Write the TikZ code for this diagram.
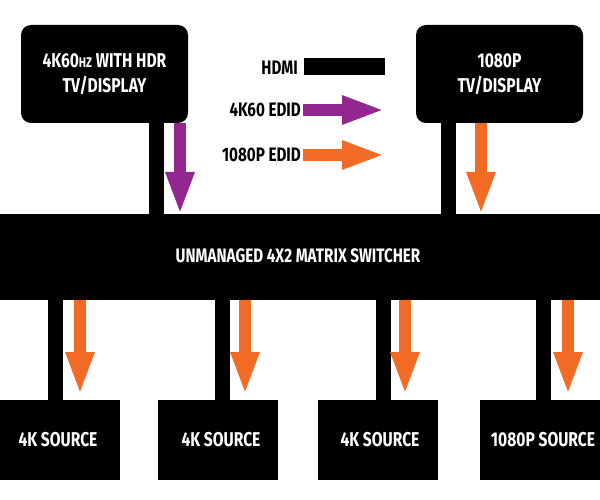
\documentclass[tikz,border=0pt]{standalone}
\usepackage{fontspec}
\setmainfont{Fira Sans}[FakeStretch=0.78]
\usetikzlibrary{arrows.meta}
\definecolor{pur}{HTML}{93278F}
\definecolor{org}{HTML}{F26B25}
\begin{document}
\begin{tikzpicture}[x=1pt,y=-1pt,
  box/.style={fill=black,text=white,font=\bfseries\fontsize{20}{25}\selectfont,align=center,inner sep=0},
  cable/.style={line width=15pt,black},
  edid/.style={line width=12pt,-{Triangle[width=26pt,length=43pt]}},
  lbl/.style={font=\bfseries\fontsize{19.5}{23}\selectfont,anchor=east,inner sep=0}]
\useasboundingbox (0,0) rectangle (600,500);
% cables
\draw[cable] (156,120) -- (156,216);
\draw[cable] (448,120) -- (448,216);
\foreach \x in {55,222,383,543}{\draw[cable] (\x,296) -- (\x,402);}
% boxes
\fill[rounded corners=10pt] (21,25) rectangle (188,123);
\node[box] (tl) at (104.5,74) {4K60{\fontsize{14}{16}\selectfont HZ} WITH HDR\\TV/DISPLAY};
\fill[rounded corners=10pt] (416,25) rectangle (583,123);
\node[box] (tr) at (499.5,74) {1080P\\TV/DISPLAY};
\fill (0,214) rectangle (600,300);
\node[box,font=\bfseries\fontsize{19.5}{23}\selectfont] (mx) at (298,256) {UNMANAGED 4X2 MATRIX SWITCHER};
\fill (0,400) rectangle (120,480); \node[box] (s1) at (58,440) {4K SOURCE};
\fill (158,400) rectangle (278,480); \node[box] (s2) at (221,440) {4K SOURCE};
\fill (318,400) rectangle (438,480); \node[box] (s3) at (380,440) {4K SOURCE};
\fill (480,400) rectangle (600,480); \node[box] (s4) at (543,440) {1080P SOURCE};
% EDID arrows
\draw[edid,pur] (180,123) -- (180,215);
\draw[edid,org] (481,123) -- (481,215);
\foreach \x in {80,245,405,568}{\draw[edid,org] (\x,300) -- (\x,395);}
% legend
\node[lbl] (h) at (298,68) {HDMI};
\fill (304,58) rectangle (385,75);
\node[lbl] (e1) at (301,110) {4K60 EDID};
\draw[edid,pur] (303,110) -- (385,110);
\node[lbl] (e2) at (301,155) {1080P EDID};
\draw[edid,org] (303,155) -- (385,155);
\end{tikzpicture}
\end{document}
